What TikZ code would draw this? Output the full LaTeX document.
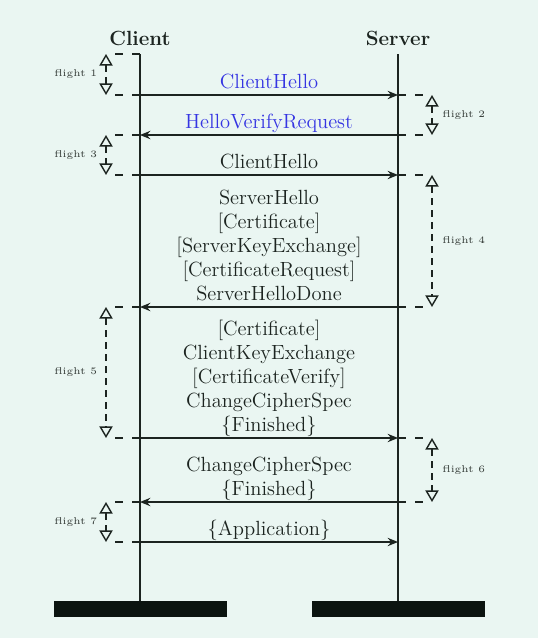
\documentclass[tikz,border=0pt]{standalone}
\usepackage{xcolor}
\usetikzlibrary{arrows.meta, positioning}
\definecolor{tlsbg}{HTML}{EAF6F2}
\definecolor{tlsink}{HTML}{1C2420}
\definecolor{tlsblue}{HTML}{3535E2}
\definecolor{tlsbar}{HTML}{0B1410}

\begin{document}
\begin{tikzpicture}[
  x=0.025cm, y=-0.025cm,
  every node/.style={font=\fontsize{14.6}{17}\selectfont, text=tlsink},
  party/.style={font=\fontsize{14.6}{17}\selectfont\bfseries},
  lifeline/.style={draw=tlsink, line width=1.1pt},
  endbar/.style={rectangle, fill=tlsbar, inner sep=0pt, minimum width=4.325cm, minimum height=0.4cm},
  msg/.style={draw=tlsink, line width=0.9pt, -{Stealth[length=2.6mm, width=2.1mm, inset=0.9mm]}},
  msglabel/.style={above, align=center, inner sep=2pt, text depth=0.25em},
  flight/.style={draw=tlsink, line width=0.9pt, dash pattern=on 1.75mm off 1.25mm,
    {Triangle[open, length=2.9mm, width=3.3mm, line width=1pt]}-{Triangle[open, length=2.9mm, width=3.3mm, line width=1pt]}},
  tick/.style={draw=tlsink, line width=0.9pt, dash pattern=on 2mm off 2.25mm},
  flightlabel/.style={inner sep=0pt, font=\tiny, scale=1.4, text=tlsink!90},
]
\fill[tlsbg] (0,0) rectangle (538,638);
\useasboundingbox (0,0) rectangle (538,638);

% parties and lifelines
\node[party] (client) at (140,38) {Client};
\node[party] (server) at (398,38) {Server};
\node[endbar] (cbar) at (140.5,609) {};
\node[endbar] (sbar) at (398.5,609) {};

\coordinate (c0) at (140,54);  \coordinate (s0) at (398,54);
\coordinate (c1) at (140,95);  \coordinate (s1) at (398,95);
\coordinate (c2) at (140,135); \coordinate (s2) at (398,135);
\coordinate (c3) at (140,175); \coordinate (s3) at (398,175);
\coordinate (c4) at (140,307); \coordinate (s4) at (398,307);
\coordinate (c5) at (140,438); \coordinate (s5) at (398,438);
\coordinate (c6) at (140,502); \coordinate (s6) at (398,502);
\coordinate (c7) at (140,542); \coordinate (s7) at (398,542);

\draw[lifeline] (c0) -- (c0 |- cbar.north);
\draw[lifeline] (s0) -- (s0 |- sbar.north);

% messages
\draw[msg] (c1) -- node[msglabel, text=tlsblue] {ClientHello} (s1);
\draw[msg] (s2) -- node[msglabel, text=tlsblue] {HelloVerifyRequest} (c2);
\draw[msg] (c3) -- node[msglabel] {ClientHello} (s3);
\draw[msg] (s4) -- node[msglabel] {ServerHello\\{[Certificate]}\\{[ServerKeyExchange]}\\{[CertificateRequest]}\\ServerHelloDone} (c4);
\draw[msg] (c5) -- node[msglabel] {{[Certificate]}\\ClientKeyExchange\\{[CertificateVerify]}\\ChangeCipherSpec\\\{Finished\}} (s5);
\draw[msg] (s6) -- node[msglabel] {ChangeCipherSpec\\\{Finished\}} (c6);
\draw[msg] (c7) -- node[msglabel] {\{Application\}} (s7);

% client flights
\coordinate (fc0) at (106,54);  \coordinate (fc1) at (106,95);
\coordinate (fc2) at (106,135); \coordinate (fc3) at (106,175);
\coordinate (fc4) at (106,307); \coordinate (fc5) at (106,438);
\coordinate (fc6) at (106,502); \coordinate (fc7) at (106,542);
\draw[flight] (fc0) -- node[left=2mm, flightlabel] (f1) {flight 1} (fc1);
\draw[flight] (fc2) -- node[left=2mm, flightlabel] (f3) {flight 3} (fc3);
\draw[flight] (fc4) -- node[left=2mm, flightlabel] (f5) {flight 5} (fc5);
\draw[flight] (fc6) -- node[left=2mm, flightlabel] (f7) {flight 7} (fc7);
\foreach \k in {0,...,7}
  \draw[tick] (fc\k) ++(9,0) -- (c\k);

% server flights
\coordinate (fs1) at (432,95);  \coordinate (fs2) at (432,135);
\coordinate (fs3) at (432,175); \coordinate (fs4) at (432,307);
\coordinate (fs5) at (432,438); \coordinate (fs6) at (432,502);
\draw[flight] (fs1) -- node[right=2.4mm, flightlabel] (f2) {flight 2} (fs2);
\draw[flight] (fs3) -- node[right=2.4mm, flightlabel] (f4) {flight 4} (fs4);
\draw[flight] (fs5) -- node[right=2.4mm, flightlabel] (f6) {flight 6} (fs6);
\foreach \k in {1,...,6}
  \draw[tick] (s\k) -- ++(25,0);
\end{tikzpicture}
\end{document}
